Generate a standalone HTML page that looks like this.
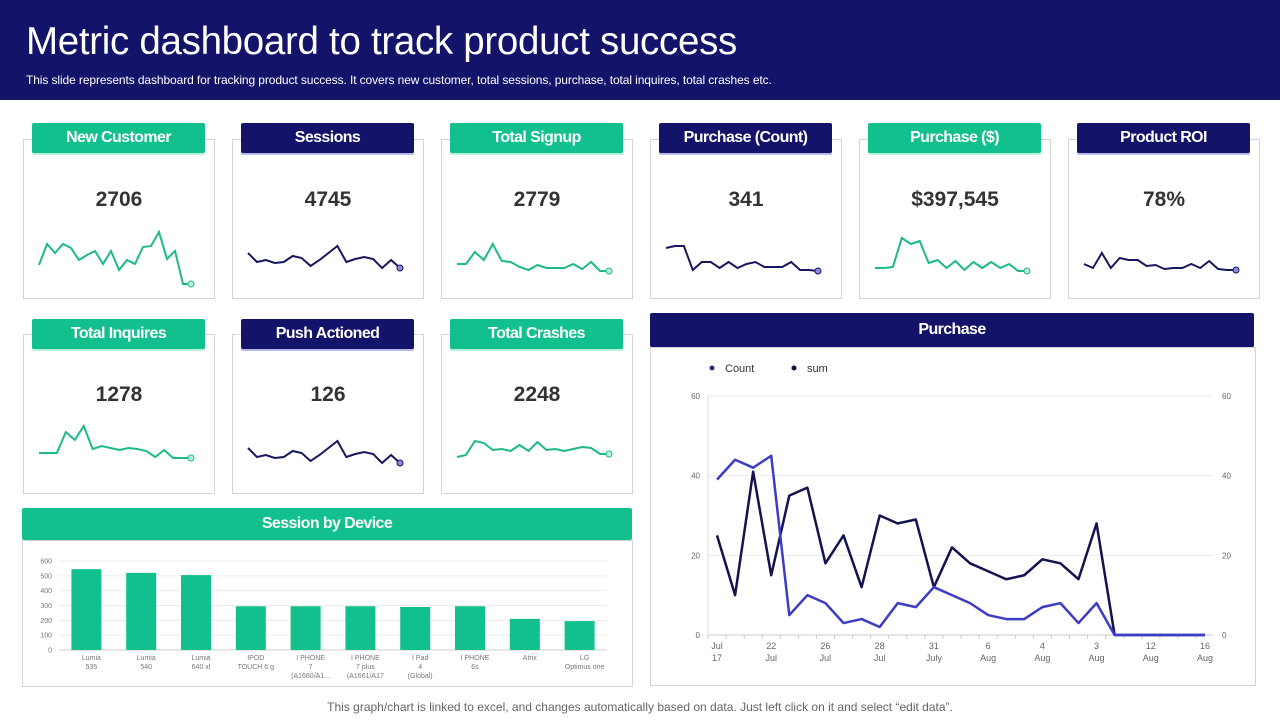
<!DOCTYPE html>
<html><head><meta charset="utf-8">
<style>
*{box-sizing:border-box;margin:0;padding:0}
body{width:1280px;height:720px;background:#fff;font-family:"Liberation Sans",sans-serif;position:relative;overflow:hidden}
.top{position:absolute;left:0;top:0;width:1280px;height:100px;background:#13136a}
.top h1{position:absolute;left:26px;top:20px;color:#fff;font-size:38.5px;font-weight:normal;letter-spacing:-0.3px}
.top p{position:absolute;left:26px;top:73px;color:#fff;font-size:12px;letter-spacing:-0.1px}
.card{position:absolute;width:192px;height:160px;border:1px solid #d4d4d4;background:#fff}
.hdr{position:absolute;width:173px;height:30px;color:#fff;font-weight:bold;font-size:16px;text-align:center;line-height:29px;border-radius:2px;letter-spacing:-0.6px}
.g{background:#12c08e;box-shadow:0 2px 0 #b6f2de}
.n{background:#13136a;box-shadow:0 2px 0 #b9b9ec}
.val{position:absolute;width:192px;text-align:center;font-size:21px;font-weight:bold;color:#333}
.panel{position:absolute;border:1px solid #d4d4d4;background:#fff}
.foot{position:absolute;left:0;top:700px;width:1280px;text-align:center;font-size:12px;color:#666}
svg text{font-family:"Liberation Sans",sans-serif}
</style></head><body>
<div class="top">
<h1>Metric dashboard to track product success</h1>
<p>This slide represents dashboard for tracking product success. It covers new customer, total sessions, purchase, total inquires, total crashes etc.</p>
</div>
<div id="cards"></div>

<div class="hdr g" style="left:22px;top:508px;width:610px;height:32px;line-height:32px;box-shadow:none">Session by Device</div>
<div class="panel" style="left:22px;top:540px;width:611px;height:147px"></div>
<svg id="bar" style="position:absolute;left:0;top:0" width="1280" height="720"></svg>

<div class="hdr n" style="left:650px;top:313px;width:604px;height:34px;line-height:33px">Purchase</div>
<div class="panel" style="left:650px;top:347px;width:606px;height:339px"></div>
<svg id="line" style="position:absolute;left:0;top:0;pointer-events:none" width="1280" height="720"></svg>

<div class="foot">This graph/chart is linked to excel, and changes automatically based on data. Just left click on it and select “edit data”.</div>

<script>
// KPI cards
const cardTitles=["New Customer","Sessions","Total Signup","Purchase (Count)","Purchase ($)","Product ROI","Total Inquires","Push Actioned","Total Crashes"];
const cardValues=["2706","4745","2779","341","$397,545","78%","1278","126","2248"];
const cardThemes=["g","n","g","n","g","n","g","n","g"];
const sparkNewCustomer=[35,56,47,56,52,40,45,49,36,49,30,40,36,53,54,68,41,49,16,16];
const sparkSessions=[47,38,40,37,38,44,42,34,40,47,54,38,41,43,41,32,40,32];
const sparkSignup=[36,36,48,40,56,39,38,33,30,35,32,32,32,36,31,38,29,29];
const sparkPurchaseCount=[52,54,54,30,38,38,32,38,32,36,38,33,33,33,38,30,30,29];
const sparkPurchaseDollar=[32,32,33,62,56,59,37,40,32,39,30,38,32,38,32,36,29,29];
const sparkROI=[36,32,47,32,42,40,40,34,35,31,32,32,36,32,39,31,30,30];
const sparkInquires=[42,42,42,63,55,69,46,49,47,45,47,46,44,38,45,37,37,37];
const sparkPush=[47,38,40,37,38,44,42,34,40,47,54,38,41,43,41,32,40,32];
const sparkCrashes=[38,40,54,52,45,46,44,50,44,53,45,46,44,46,48,47,41,41];
const sparks=[sparkNewCustomer,sparkSessions,sparkSignup,sparkPurchaseCount,sparkPurchaseDollar,sparkROI,sparkInquires,sparkPush,sparkCrashes];
const SVGNS="http://www.w3.org/2000/svg";
const cont=document.getElementById('cards');
const colsX=[23,232,441,650,859,1068];
for(let i=0;i<9;i++){
  const row=i<6?0:1, col=i<6?i:i-6;
  const x=colsX[col], top=row?334:139, hy=row?319:123;
  const card=document.createElement('div');card.className='card';
  card.style.left=x+'px';card.style.top=top+'px';
  
  
  cont.appendChild(card);
  const h=document.createElement('div');h.className='hdr '+cardThemes[i];
  h.style.left=(x+9)+'px';h.style.top=hy+'px';h.textContent=cardTitles[i];
  
  
  cont.appendChild(h);
  const v=document.createElement('div');v.className='val';
  v.style.left=x+'px';v.style.top=(top+49)+'px';v.textContent=cardValues[i];
  
  
  cont.appendChild(v);
  const s=document.createElementNS(SVGNS,'svg');
  s.setAttribute('width',192);s.setAttribute('height',80);
  s.style.position='absolute';s.style.left=x+'px';s.style.top=(top+86)+'px';
  
  
  const d=sparks[i], n=d.length;
  const x0=16,x1=168, sx=j=>x0+(x1-x0)*j/(n-1), sy=val=>75-val;
  const col2=cardThemes[i]=='g'?'#1db98a':'#17175c';
  const pl=document.createElementNS(SVGNS,'polyline');
  pl.setAttribute('points',d.map((val,j)=>sx(j)+','+sy(val)).join(' '));
  pl.setAttribute('fill','none');pl.setAttribute('stroke',col2);pl.setAttribute('stroke-width','2');
  
  
  s.appendChild(pl);
  const c=document.createElementNS(SVGNS,'circle');
  c.setAttribute('cx',sx(n-1));c.setAttribute('cy',sy(d[n-1]));c.setAttribute('r',3);
  c.setAttribute('fill',cardThemes[i]=='g'?'#bff0e0':'#8b8bdc');c.setAttribute('stroke',col2);
  
  
  s.appendChild(c);
  cont.appendChild(s);
}
</script>

<script>
// Session by device bar chart
const devices=[["Lumia","535"],["Lumia","540"],["Lumia","640 xl"],["IPOD","TOUCH 6 g"],["I PHONE","7","(A1660/A1..."],["I PHONE","7 plus","(A1661/A17"],["I Pad","4","(Global)"],["I PHONE","6s"],["Atrix"],["LG","Optimus one"]];
const deviceSessions=[545,520,505,295,295,295,290,295,210,195];
const barTicks=[0,100,200,300,400,500,600];
(function(){
  const svg=document.getElementById('bar');
  const L=59,R=607,T=561,B=650,max=600;
  const y=v=>B-(B-T)*v/max;
  const step=(R-L)/deviceSessions.length;
  const xc=i=>L+step*(i+0.5);
  let h='';
  barTicks.forEach(t=>{
    h+=`<line x1="${L}" x2="${R}" y1="${y(t)}" y2="${y(t)}" stroke="${t?'#ececec':'#ccc'}"/>`;
    h+=`<text x="${L-7}" y="${y(t)+2.5}" font-size="7" fill="#777" text-anchor="end">${t}</text>`;
  });
  deviceSessions.forEach((v,i)=>{
    h+=`<rect x="${xc(i)-15}" y="${y(v)}" width="30" height="${B-y(v)}" fill="#12c08e"/>`;
    devices[i].forEach((ln,k)=>{
      h+=`<text x="${xc(i)+5}" y="${B+10+k*9}" font-size="7" fill="#777" text-anchor="middle">${ln}</text>`;
    });
  });
  svg.innerHTML=h;
})();
</script>

<script>
// Purchase line chart
const purchaseLabels=[["Jul","17"],null,null,["22","Jul"],null,null,["26","Jul"],null,null,["28","Jul"],null,null,["31","July"],null,null,["6","Aug"],null,null,["4","Aug"],null,null,["3","Aug"],null,null,["12","Aug"],null,null,["16","Aug"]];
const countSeries=[39,44,42,45,5,10,8,3,4,2,8,7,12,10,8,5,4,4,7,8,3,8,0,0,0,0,0,0];
const sumSeries=[25,10,41,15,35,37,18,25,12,30,28,29,12,22,18,16,14,15,19,18,14,28,0,0,0,0,0,0];
const lineTicks=[0,20,40,60];
(function(){
  const svg=document.getElementById('line');
  const L=708,R=1213,T=396,B=635,max=60,x0=717,x1=1205;
  const y=v=>B-(B-T)*v/max;
  const x=i=>x0+(x1-x0)*i/(countSeries.length-1);
  let h='';
  lineTicks.forEach(t=>{
    h+=`<line x1="${L}" x2="${R}" y1="${y(t)}" y2="${y(t)}" stroke="${t?'#ececec':'#ccc'}"/>`;
    h+=`<text x="${L-8}" y="${y(t)+3}" font-size="8" fill="#666" text-anchor="end">${t}</text>`;
    h+=`<text x="${R+9}" y="${y(t)+3}" font-size="8" fill="#666">${t}</text>`;
  });
  h+=`<line x1="${L}" x2="${L}" y1="${T}" y2="${B}" stroke="#ddd"/>`;
  countSeries.forEach((_,i)=>{
    const tx=x(i)-9;
    h+=`<line x1="${tx}" x2="${tx}" y1="${B}" y2="${B+4}" stroke="#ccc"/>`;
    const lb=purchaseLabels[i];
    if(lb){lb.forEach((t,k)=>{h+=`<text x="${x(i)}" y="${B+14+k*12}" font-size="9" fill="#666" text-anchor="middle">${t}</text>`;});}
  });
  const pts=s=>s.map((v,i)=>x(i)+','+y(v)).join(' ');
  h+=`<polyline points="${pts(sumSeries)}" fill="none" stroke="#14134f" stroke-width="2.5" stroke-linejoin="round"/>`;
  h+=`<polyline points="${pts(countSeries)}" fill="none" stroke="#3c3cc4" stroke-width="2.5" stroke-linejoin="round"/>`;
  h+=`<circle cx="712" cy="368" r="2.5" fill="#2a2a8a"/>`;
  h+=`<text x="725" y="372" font-size="11" fill="#333">Count</text>`;
  h+=`<circle cx="794" cy="368" r="2.5" fill="#111140"/>`;
  h+=`<text x="807" y="372" font-size="11" fill="#333">sum</text>`;
  svg.innerHTML=h;
})();
</script>
</body></html>
